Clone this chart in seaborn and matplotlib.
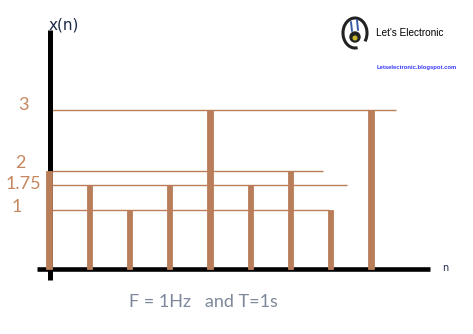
import numpy as np
import matplotlib
matplotlib.use("Agg")
import matplotlib.pyplot as plt
import seaborn as sns
import pandas as pd
from matplotlib.patches import Arc, Circle

# ---- data ----
n_values = [0, 1, 2, 3, 4, 5, 6, 7, 8]
x_values = [2, 1.75, 1, 1.75, 3, 1.75, 2, 1, 3]
level_values = [3, 2, 1.75, 1]
level_labels = ["3", "2", "1.75", "1"]
level_starts = [0.0, 0.08, 0.08, 0.08]
level_ends = [8.62, 6.81, 7.40, 6.96]
y_label = "x(n)"
x_label = "n"
caption = "F = 1Hz   and T=1s"
brand = "Let's Electronic"
url = "Letselectronic.blogspot.com"

STEM = "#b97d5a"
LABEL = "#c48760"

sns.set_theme(style="white")
plt.rcParams['font.family'] = ['Lato', 'DejaVu Sans']

W, H = 473, 334
fig = plt.figure(figsize=(W / 100, H / 100), dpi=100)
ax = fig.add_axes([0, 0, 1, 1])

# hand-drawn (non-uniform) vertical scale: value -> pixel height from bottom
scale_vals = [-3.0, 0.0, 1.0, 1.75, 2.0, 3.0, 6.0]
scale_px = [65 - 3 * 59.5, 65, 124.5, 149, 163.5, 224, 224 + 3 * 60.5]


def fwd(v):
    return np.interp(v, scale_vals, scale_px)


def inv(p):
    return np.interp(p, scale_px, scale_vals)


df = pd.DataFrame({"n": n_values, "x": x_values})
sns.barplot(data=df, x="n", y="x", native_scale=True, width=0.125,
            color=STEM, saturation=1, edgecolor=STEM, linewidth=0.6,
            ax=ax, zorder=5)

ax.set_yscale('function', functions=(fwd, inv))
px_per_n = 40.25
x0_px = 49
ax.set_xlim(-x0_px / px_per_n, (W - x0_px) / px_per_n)
ax.set_ylim(float(inv(0)), float(inv(H)))
ax.set_axis_off()

# reference lines
ax.hlines(level_values, level_starts, level_ends, color=STEM, lw=1.0, zorder=2)

# axes drawn by hand
ax.plot([0.03, 0.03], [float(inv(H - 280)), float(inv(H - 30))], color="black",
        lw=3.6, solid_capstyle="butt", zorder=4)
ax.plot([(37 - x0_px) / px_per_n, (430 - x0_px) / px_per_n], [0, 0],
        color="black", lw=3.3, solid_capstyle="butt", zorder=4)

# level labels (hand placed)
offsets = [(-26, 5), (-29, 8), (-26, 1), (-32, 3)]
for val, lab, (dx, dy) in zip(level_values, level_labels, offsets):
    ax.annotate(lab, xy=(0, val), xytext=(dx * 0.72, dy * 0.72),
                textcoords="offset points", ha="center", va="center",
                fontsize=13, color=LABEL)

fig.text(64 / W, 1 - 25 / H, y_label, ha="center", va="center",
         fontsize=11, color="#1b2a48", family=["DejaVu Sans"])
fig.text(445 / W, 1 - 268 / H, x_label, ha="center", va="center",
         fontsize=7, color="#1b2a48", family=["DejaVu Sans"])
fig.text(203 / W, 1 - 302 / H, caption, ha="center", va="center",
         fontsize=13, color="#7d889b")

# logo
fig.text(376 / W, 1 - 33 / H, brand, ha="left", va="center", fontsize=7.2,
         color="black", family=["Liberation Sans Narrow", "Liberation Sans", "DejaVu Sans"])
fig.text(377 / W, 1 - 68 / H, url, ha="left", va="center", fontsize=4.2,
         color="#3a3aff", fontweight="bold",
         family=["Liberation Sans Narrow", "Liberation Sans", "DejaVu Sans"])

lax = fig.add_axes([0, 0, 1, 1])
lax.set_xlim(0, W)
lax.set_ylim(H, 0)
lax.set_axis_off()
lax.add_patch(Arc((355, 33), 24, 30, theta1=80, theta2=400, lw=2.2, color="#222222"))
lax.add_patch(Circle((355, 37), 5, color="#222222"))
lax.add_patch(Circle((355, 38), 1.8, color="#c8b830"))
lax.plot([351, 352], [22, 31], color="#3a5aa8", lw=1.4)
lax.plot([357, 358], [20, 30], color="#3a5aa8", lw=1.4)

fig.savefig("out.png", dpi=100, facecolor="white")
